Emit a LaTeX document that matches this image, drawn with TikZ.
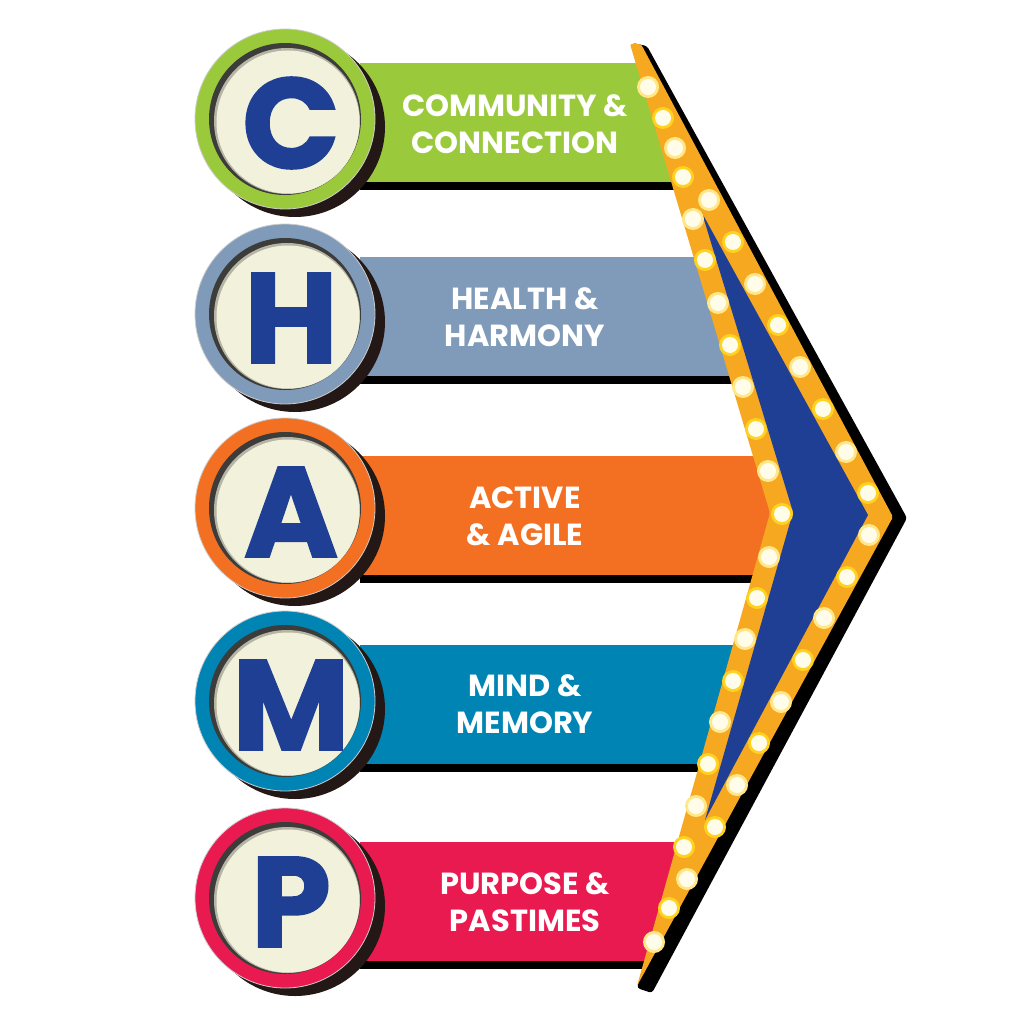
\documentclass[tikz,border=0pt]{standalone}
\usepackage{fontspec}
\newfontfamily\champfont{Poppins}
\newfontfamily\champheavy{Poppins}[FakeBold=1.6]
\definecolor{cgreen}{HTML}{9ACA3C}
\definecolor{cgrey}{HTML}{7F9BB9}
\definecolor{corange}{HTML}{F36F21}
\definecolor{cteal}{HTML}{0084B4}
\definecolor{cpink}{HTML}{E91A50}
\definecolor{navy}{HTML}{1E3F94}
\definecolor{chevorange}{HTML}{F6A821}
\definecolor{cream}{HTML}{F2F1DC}
\definecolor{puck}{HTML}{231815}
\definecolor{innershade}{HTML}{3C3D3A}
\definecolor{bulbring}{HTML}{FFD21F}
\definecolor{bulbringlight}{HTML}{FFE78A}
\definecolor{bulbwhite}{HTML}{FFFDEA}
\begin{document}
\begin{tikzpicture}[x=1pt,y=-1pt,
  bigletter/.style={font=\champheavy\bfseries\fontsize{128}{128}\selectfont, text=navy, inner sep=0pt},
  barlabel/.style={font=\champfont\bfseries\fontsize{30.5}{37}\selectfont, text=white, align=center, inner sep=0pt},
  ring/.style={circle, minimum size=180pt, inner sep=0pt, draw=black!20, line width=0.8pt}]
\useasboundingbox (0,0) rectangle (1024,1024);
\fill[white] (0,0) rectangle (1024,1024);

% bars, clipped at the chevron
\begin{scope}
  \clip (0,0) -- (640,0) -- (640,44) -- (893,517) -- (650,990) -- (650,1024) -- (0,1024) -- cycle;
  \foreach \bt/\col [count=\i] in {63/cgreen,257/cgrey,456/corange,645/cteal,842/cpink}{
    \fill[black] (360,\bt+8) rectangle (900,\bt+127);
    \fill[\col] (360,\bt) rectangle (900,\bt+119);
  }
\end{scope}

% labels
\node[barlabel] (tC) at (515,124) {COMMUNITY \&\\CONNECTION};
\node[barlabel] (tH) at (525,317) {HEALTH \&\\HARMONY};
\node[barlabel] (tA) at (525,516) {ACTIVE\\\& AGILE};
\node[barlabel] (tM) at (525,704) {MIND \&\\MEMORY};
\node[barlabel] (tP) at (525,902) {PURPOSE \&\\PASTIMES};

% circles
\foreach \cy/\col/\L [count=\i] in {119/cgreen/C,314/cgrey/H,508/corange/A,701/cteal/M,898/cpink/P}{
  \fill[puck] (295,\cy+8) circle (90pt);
  \node[ring, fill=\col] (ring\L) at (285,\cy) {};
  \fill[innershade] (285,\cy) circle (76pt);
  \fill[black!25!cream] (287,\cy+2) circle (73pt);
  \fill[cream] (288,\cy+3) circle (71.5pt);
  \node[bigletter] (letter\L) at (291,\cy+4) {\L};
}

% chevron
\fill[black, rounded corners=3pt] (632,43) -- (647,46) -- (907,518) -- (652,993) -- (637,988) -- (772,513) -- cycle;
\fill[chevorange, rounded corners=2pt] (630,44) -- (641,44) -- (893,517) -- (637,986) -- (770,513) -- cycle;
\fill[navy] (702,213) -- (868,515) -- (705,820) -- (793,512) -- cycle;

% bulbs
\foreach \x/\y [count=\k] in {648/87,663/118,675/148,683/177,
  709/200,733/242,755/284,778/325,800/367,823/409,846/452,868/493,869/535,847/577,824/618,803/660,781/702,759/743,737/785,715/827,
  693/219,705/260,718/303,730/345,743/387,756/429,768/471,782/514,769/557,757/598,745/639,733/681,720/722,708/764,696/806,684/847,
  687/879,669/908,654/942}{
  \ifodd\k
    \fill[bulbringlight] (\x,\y) circle (11pt);
  \else
    \fill[bulbring] (\x,\y) circle (11pt);
  \fi
  \fill[bulbwhite] (\x,\y) circle (8pt);
}
\end{tikzpicture}
\end{document}
